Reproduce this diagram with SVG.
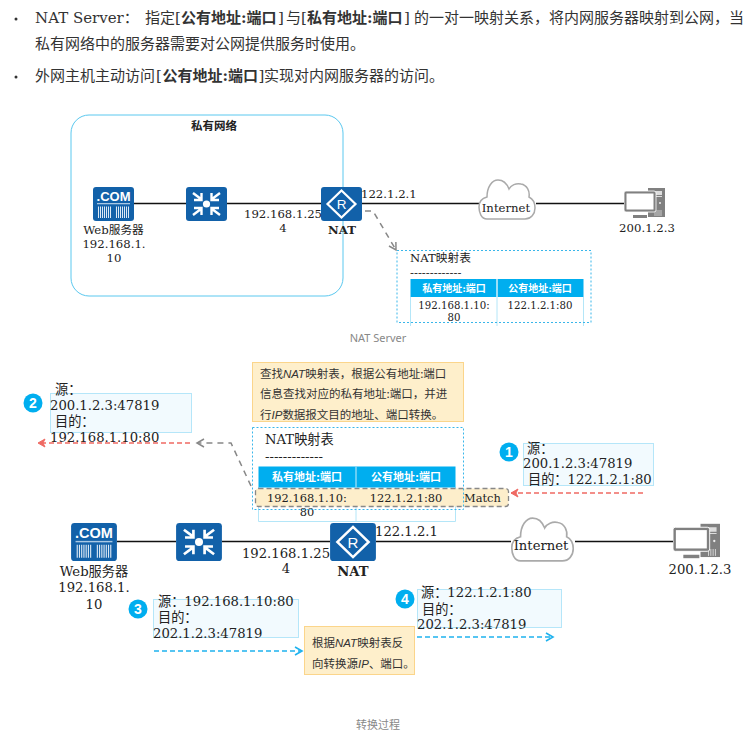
<svg xmlns="http://www.w3.org/2000/svg" xmlns:xlink="http://www.w3.org/1999/xlink" width="755" height="744" viewBox="0 0 755 744">
<style>
text{font-family:"DejaVu Serif","Noto Sans CJK SC",serif;fill:#222}
.top{font-size:15px;fill:#333}
.b{font-weight:700}
.s{font-size:11.7px}
.l{font-size:13.2px}
.m{text-anchor:middle}
.th{font-weight:700;fill:#fff;text-anchor:middle}
.cap{font-family:"Noto Sans","Noto Sans CJK SC",sans-serif;font-size:11px;fill:#888;text-anchor:middle}
.note{font-family:"Noto Sans CJK SC",sans-serif;font-size:11.5px;fill:#333}
.it{font-family:"Liberation Sans",sans-serif;font-style:italic}
.info{fill:#f2fafe;stroke:#b5e6f9;stroke-width:1}
.yel{fill:#feefcb;stroke:#fbd58b;stroke-width:1}
.dbox{fill:none;stroke:#38b6ea;stroke-width:1;stroke-dasharray:2 2}
.tl{fill:none;stroke:#b4e6f8;stroke-width:1}
.hd{fill:#00aeef}
.link{stroke:#111;stroke-width:1.5;fill:none}
.gd{stroke:#888;stroke-width:1.5;fill:none;stroke-dasharray:6 5}
.rd{stroke:#ef6a63;stroke-width:1.5;fill:none;stroke-dasharray:5 3}
.bd{stroke:#1fb2ee;stroke-width:1.5;fill:none;stroke-dasharray:5 3}
.num{fill:#00aeef}
.numt{font-family:"Liberation Sans",sans-serif;font-size:14px;font-weight:700;fill:#fff;text-anchor:middle}
</style>
<defs>
<marker id="ag" markerWidth="12" markerHeight="12" refX="10" refY="6" orient="auto" markerUnits="userSpaceOnUse"><path d="M3 2 L10 6 L3 10" fill="none" stroke="#888" stroke-width="1.5"/></marker>
<marker id="ar" markerWidth="12" markerHeight="12" refX="10" refY="6" orient="auto" markerUnits="userSpaceOnUse"><path d="M3 2 L10 6 L3 10 L5 6Z" fill="#ef6a63" stroke="#ef6a63"/></marker>
<marker id="ab" markerWidth="12" markerHeight="12" refX="10" refY="6" orient="auto" markerUnits="userSpaceOnUse"><path d="M3 2 L10 6 L3 10" fill="none" stroke="#1fb2ee" stroke-width="1.6"/></marker>
<symbol id="com" viewBox="0 0 41 34">
<rect width="41" height="34" rx="3" fill="#1261a9"/>
<text x="20.500" y="13.500" text-anchor="middle" style="font-family:'Liberation Sans',sans-serif;font-size:13px;font-weight:700;fill:#fff">.COM</text>
<rect x="4" y="16" width="33" height="1.300" fill="#a9c8e4"/>
<path d="M5.500 19.500V31M7.500 19.500V31M9.500 19.500V31M11.500 19.500V31M13.500 19.500V31M15.500 19.500V31M17.500 19.500V31M23.500 19.500V31M25.500 19.500V31M27.500 19.500V31M29.500 19.500V31M31.500 19.500V31M33.500 19.500V31M35.500 19.500V31" stroke="#dce9f5" stroke-width="1"/>
</symbol>
<symbol id="sw" viewBox="0 0 41 34">
<rect width="41" height="34" rx="3" fill="#1261a9"/>
<circle cx="20.500" cy="17" r="3.600" fill="#fff"/>
<g fill="none" stroke="#fff" stroke-width="2.400">
<path d="M7 6 L15 12 M8 13 H15.500 V6"/>
<path d="M34 6 L26 12 M33 13 H25.500 V6"/>
<path d="M7 28 L15 22 M8 21 H15.500 V28"/>
<path d="M34 28 L26 22 M33 21 H25.500 V28"/>
</g>
</symbol>
<symbol id="rt" viewBox="0 0 41 34">
<rect width="41" height="34" rx="3" fill="#1261a9"/>
<path d="M20.500 3.500 L34.500 17 L20.500 30.500 L6.500 17Z" fill="none" stroke="#fff" stroke-width="2.200"/>
<text x="20.500" y="22" text-anchor="middle" style="font-family:'Liberation Sans',sans-serif;font-size:13.500px;fill:#fff">R</text>
</symbol>
<symbol id="cloud" viewBox="0 0 58 41">
<path d="M9 40 C3 40 1 33 1 28 C1 22 5 19 9 18 C9 8 14 1 20 1 C25 1 29 5 31 10 C33 6 38 4 43 5 C49 6 52 12 51 18 C55 20 57 24 57 29 C57 35 53 40 47 40Z" fill="#fff" stroke="#aaa" stroke-width="1.500"/>
</symbol>
<symbol id="pc" viewBox="0 0 41 30">
<path d="M24 0 H41 V29 H24Z" fill="#808080"/>
<path d="M28 3 H38 V7 H28Z M28 8 H38 V9 H28Z" fill="#ddd"/>
<path d="M31 22V28M33 22V28M35 22V28M37 22V28" stroke="#ddd" stroke-width=".8"/>
<circle cx="36" cy="15" r="1" fill="#eee"/>
<rect x="0" y="3" width="32" height="21" rx="2" fill="#808080" stroke="#fff" stroke-width=".8"/>
<rect x="2.500" y="5.500" width="27" height="16" fill="#fff"/>
<path d="M9 27H23V30H9Z" fill="#808080"/>
</symbol>
</defs>
<rect width="755" height="744" fill="#fff"/>

<g id="intro">
<circle cx="16" cy="19" r="1.500" fill="#333"/>
<text class="top" x="35" y="23">NAT Server：<tspan x="145">指定</tspan><tspan x="175">[</tspan><tspan class="b" x="181">公有地址:端口</tspan><tspan x="278">]</tspan><tspan x="286">与</tspan><tspan x="301">[</tspan><tspan class="b" x="307">私有地址:端口</tspan><tspan x="404">]</tspan><tspan x="414">的一对一映射关系，将内网服务器映射到公网，当</tspan></text>
<text class="top" x="35" y="49">私有网络中的服务器需要对公网提供服务时使用。</text>
<circle cx="16" cy="77" r="1.500" fill="#333"/>
<text class="top" x="35" y="81">外网主机主动访问<tspan x="156">[</tspan><tspan class="b" x="162.500">公有地址:端口</tspan><tspan x="258.500">]</tspan><tspan x="264">实现对内网服务器的访问。</tspan></text>
</g>

<g id="private-network">
<rect x="71" y="115" width="272" height="181" rx="18" fill="none" stroke="#5ac8ef" stroke-width="1"/>
<text x="214" y="130" class="b m" style="font-size:11.500px">私有网络</text>
</g>

<g id="connectors">
<path class="link" d="M134 203.500H186M227 203.500H321M362 203.500H479M536 203.500H624"/>
<path class="gd" d="M365 211 H373 L396 250" marker-end="url(#ag)"/>
<path class="link" d="M117 541.500H176M222 541.500H330M376 541.500H511M575 541.500H673"/>
<path class="gd" d="M251 486 L231 443 H197" marker-end="url(#ag)"/>
<path class="rd" d="M190 443 H38" marker-end="url(#ar)"/>
<path class="rd" d="M643 493 H511" marker-end="url(#ar)"/>
<path class="bd" d="M154 651 H302" marker-end="url(#ab)"/>
<path class="bd" d="M417 637 H553" marker-end="url(#ab)"/>
</g>

<g id="top-server"><use href="#com" x="93" y="187" width="41" height="34"/>
<text class="s m" x="113.500" y="234">Web服务器</text><text class="s m" x="114" y="248">192.168.1.</text><text class="s m" x="114" y="262">10</text></g>
<g id="top-switch"><use href="#sw" x="186" y="187" width="41" height="34"/></g>
<g id="top-nat"><use href="#rt" x="321" y="187" width="41" height="34"/>
<text class="s b m" x="342" y="234">NAT</text>
<text class="s m" x="283" y="218">192.168.1.25</text><text class="s m" x="283" y="232">4</text>
<text class="s" x="361" y="198">122.1.2.1</text></g>
<g id="top-cloud"><use href="#cloud" x="478" y="179" width="58" height="41"/><text class="s m" x="506" y="212">Internet</text></g>
<g id="top-pc"><use href="#pc" x="624" y="188" width="41" height="30"/><text class="s m" x="647" y="232">200.1.2.3</text></g>

<g id="top-table">
<text class="s" x="410" y="262">NAT映射表</text>
<text class="s" x="410" y="277">-------------</text>
<rect class="hd" x="410.500" y="279" width="173" height="18"/>
<path class="tl" d="M410.500 297V326M583.500 297V326M497 279V326"/>
<path d="M497 279V297" stroke="#fff" stroke-width=".8"/>
<text class="th" x="454" y="292" style="font-size:10px">私有地址:端口</text>
<text class="th" x="540" y="292" style="font-size:10px">公有地址:端口</text>
<text class="m" x="454" y="309" style="font-size:10.200px">192.168.1.10:</text>
<text class="m" x="454" y="321" style="font-size:10.200px">80</text>
<text class="m" x="540" y="309" style="font-size:10.200px">122.1.2.1:80</text>
<rect class="dbox" x="397" y="250.500" width="194" height="72"/>
</g>
<text class="cap" x="378" y="342">NAT Server</text>

<g id="note-lookup">
<rect class="yel" x="252.500" y="362.500" width="211" height="59"/>
<text class="note" x="260" y="378">查找<tspan class="it">NAT</tspan>映射表，根据公有地址:端口</text>
<text class="note" x="260" y="398">信息查找对应的私有地址:端口，并进</text>
<text class="note" x="260" y="419">行<tspan class="it">IP</tspan>数据报文目的地址、端口转换。</text>
</g>

<g id="bottom-table">
<text x="265" y="444" style="font-size:13.200px">NAT映射表</text>
<text x="265" y="461" style="font-size:13.200px">-------------</text>
<path class="tl" d="M258.500 487V521.500H455.500V487M356 466V521.500"/>
<rect x="255.500" y="488.500" width="253" height="18" rx="3" fill="#fdeecb" stroke="#888" stroke-width="1.300" stroke-dasharray="5 3"/>
<rect class="hd" x="258.500" y="466.500" width="197" height="21"/>
<path d="M356 466.500V487.500" stroke="#fff" stroke-width=".8"/>
<text class="th" x="307" y="481" style="font-size:11px">私有地址:端口</text>
<text class="th" x="406" y="481" style="font-size:11px">公有地址:端口</text>
<text class="m" x="307" y="502" style="font-size:11.400px">192.168.1.10:</text>
<text class="m" x="307" y="516" style="font-size:11.400px">80</text>
<text class="m" x="406" y="502" style="font-size:11.400px">122.1.2.1:80</text>
<text x="464" y="502" style="font-size:11.400px">Match</text>
<rect class="dbox" x="252.500" y="427.500" width="211" height="82"/>
</g>

<g id="bottom-server"><use href="#com" x="71" y="523" width="46" height="38"/>
<text class="l m" x="94" y="576">Web服务器</text><text class="l m" x="94" y="592">192.168.1.</text><text class="l m" x="94" y="609">10</text></g>
<g id="bottom-switch"><use href="#sw" x="176" y="523" width="46" height="38"/></g>
<g id="bottom-nat"><use href="#rt" x="330" y="523" width="46" height="38"/>
<text class="l b m" x="353" y="576">NAT</text>
<text class="l m" x="286" y="558">192.168.1.25</text><text class="l m" x="286" y="573">4</text>
<text class="l" x="375" y="536">122.1.2.1</text></g>
<g id="bottom-cloud"><use href="#cloud" x="510" y="517" width="65" height="45"/><text class="l m" x="541" y="550">Internet</text></g>
<g id="bottom-pc"><use href="#pc" x="673" y="523" width="47" height="36"/><text class="l m" x="700" y="574">200.1.2.3</text></g>

<g id="step-1">
<circle class="num" cx="509" cy="452" r="9.500"/><text class="numt" x="509" y="457">1</text>
<rect class="info" x="523.500" y="443.500" width="130" height="42"/>
<text class="l" x="527" y="453">源：</text><text class="l" x="523" y="468">200.1.2.3:47819</text><text class="l" x="528" y="484">目的：122.1.2.1:80</text>
</g>
<g id="step-2">
<circle class="num" cx="33" cy="403" r="9.500"/><text class="numt" x="33" y="408">2</text>
<rect class="info" x="50.500" y="393.500" width="141" height="39"/>
<text class="l" x="55" y="394">源：</text><text class="l" x="50" y="410">200.1.2.3:47819</text><text class="l" x="55" y="426">目的：</text><text class="l" x="50" y="442">192.168.1.10:80</text>
</g>
<g id="step-3">
<circle class="num" cx="138" cy="609" r="9.500"/><text class="numt" x="138" y="614">3</text>
<rect class="info" x="153.500" y="599.500" width="145" height="38"/>
<text class="l" x="158" y="606">源：192.168.1.10:80</text><text class="l" x="158" y="622">目的：</text><text class="l" x="153" y="638">202.1.2.3:47819</text>
</g>
<g id="step-4">
<circle class="num" cx="405" cy="599" r="9.500"/><text class="numt" x="405" y="604">4</text>
<rect class="info" x="417.500" y="589.500" width="144" height="38"/>
<text class="l" x="421" y="597">源：122.1.2.1:80</text><text class="l" x="422" y="614">目的：</text><text class="l" x="417" y="629">202.1.2.3:47819</text>
</g>
<g id="note-reverse">
<rect class="yel" x="304.500" y="626.500" width="110" height="48"/>
<text class="note" x="312" y="647">根据<tspan class="it">NAT</tspan>映射表反</text>
<text class="note" x="312" y="668">向转换源<tspan class="it">IP</tspan>、端口。</text>
</g>
<text class="cap" x="378" y="729">转换过程</text>
</svg>
